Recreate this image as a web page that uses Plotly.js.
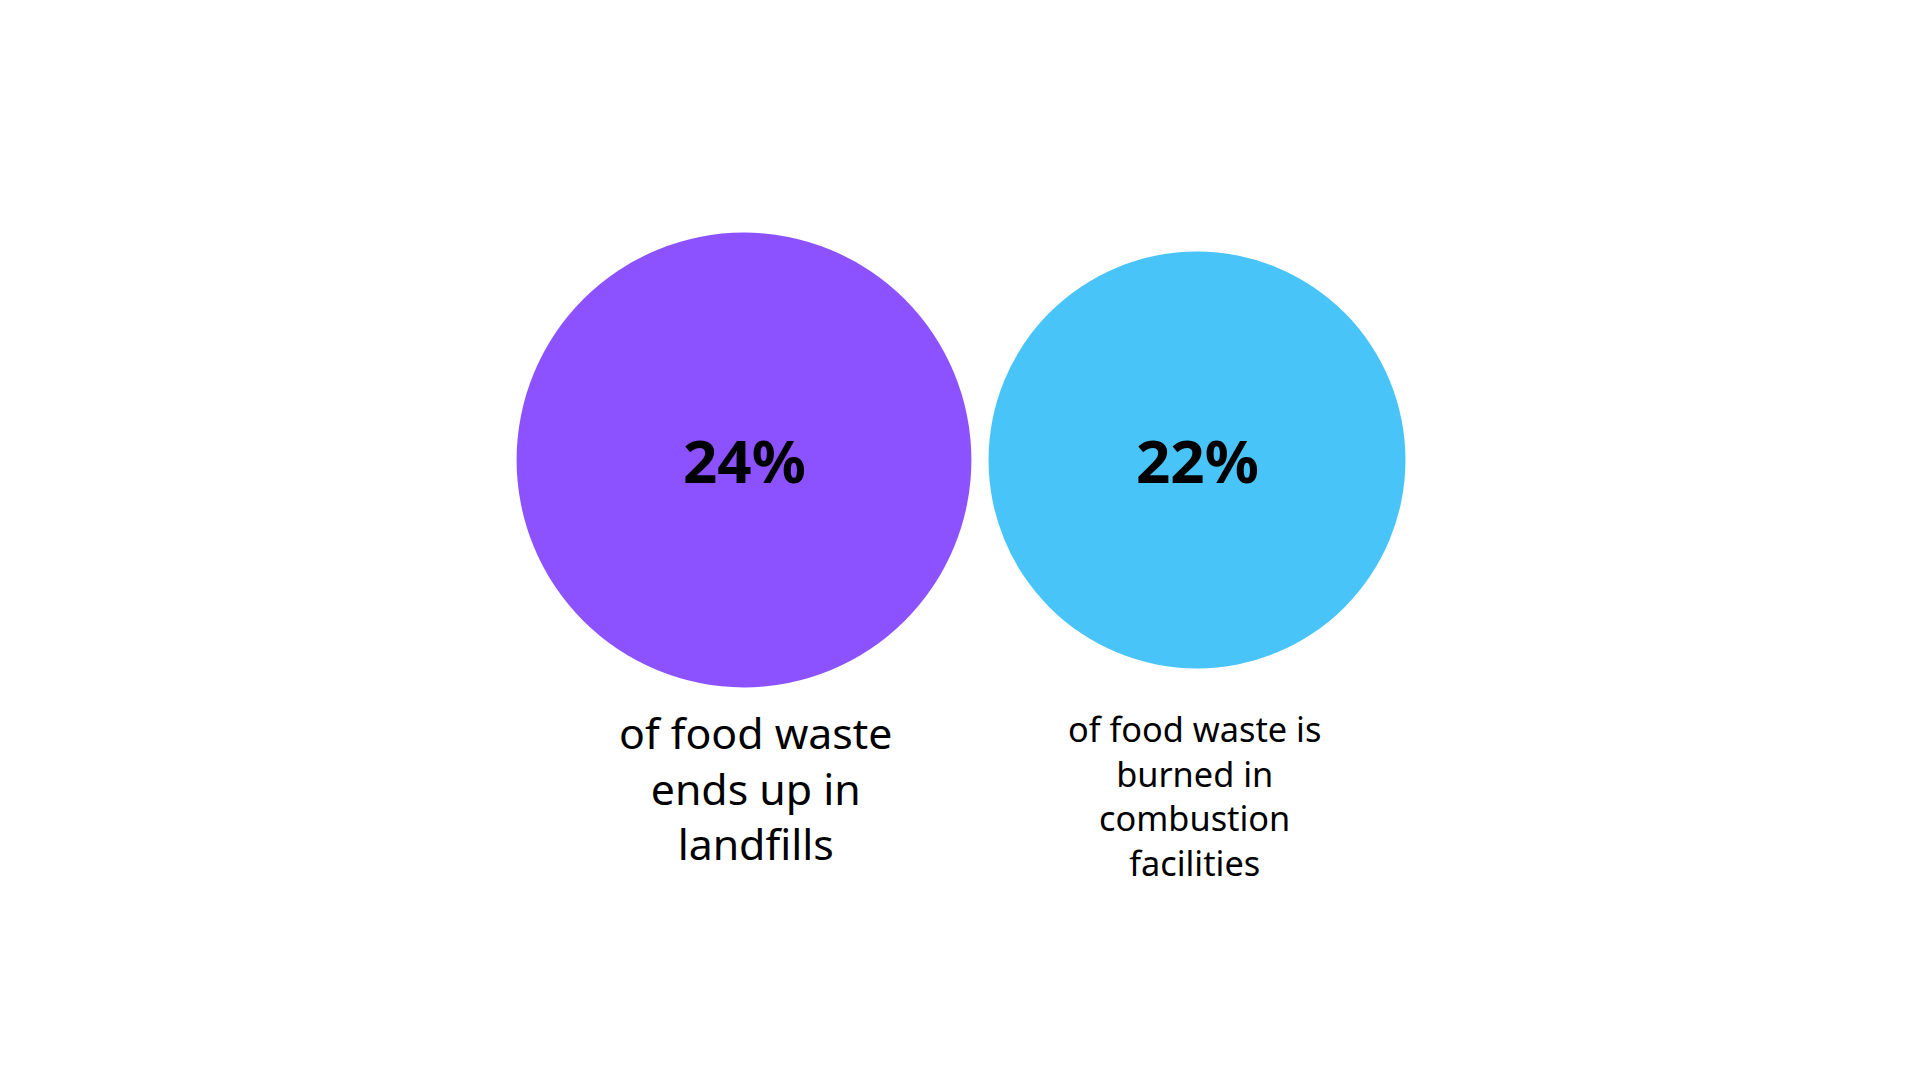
<!DOCTYPE html>
<html>
<head>
<meta charset="utf-8">
<script src="https://cdn.plot.ly/plotly-3.0.1.min.js"></script>
<style>html,body{margin:0;padding:0;background:#fff;}#chart{width:1920px;height:1080px;}</style>
</head>
<body>
<div id="chart"></div>
<script>
// Data
const categories = ["Landfills", "Combustion"];
const percentValues = [24, 22];
const captions = [
  "of food waste<br>ends up in<br>landfills",
  "of food waste is<br>burned in<br>combustion<br>facilities"
];
const colors = ["#8C52FF", "#48C4F9"];

const pxPerUnit = 18.95; // circle diameter per percentage point

const trace = {
  type: "scatter",
  mode: "markers",
  x: categories,
  y: categories.map(() => 0),
  marker: {
    size: percentValues.map(v => v * pxPerUnit),
    color: colors,
    line: {width: 0},
    opacity: 1
  },
  hoverinfo: "skip",
  cliponaxis: false
};

const captionLayout = [
  {xshift: 11, y: -328, size: 42.8},
  {xshift: -3, y: -335.5, size: 34.3}
];

const percentAnnotations = categories.map((c, i) => ({
  x: c,
  y: 0,
  xref: "x",
  yref: "y",
  text: percentValues[i] + "%",
  showarrow: false,
  xanchor: "center",
  yanchor: "middle",
  yshift: 0,
  font: {family: "Noto Sans", size: 60, color: "#000000", weight: 700}
}));

const captionAnnotations = categories.map((c, i) => ({
  x: c,
  y: captionLayout[i].y,
  xref: "x",
  yref: "y",
  text: captions[i],
  showarrow: false,
  xanchor: "center",
  yanchor: "middle",
  align: "center",
  xshift: captionLayout[i].xshift,
  font: {family: "Noto Sans", size: captionLayout[i].size, color: "#000000"}
}));

const layout = {
  width: 1920,
  height: 1080,
  margin: {l: 0, r: 0, t: 0, b: 0},
  paper_bgcolor: "#ffffff",
  plot_bgcolor: "#ffffff",
  showlegend: false,
  xaxis: {
    type: "category",
    range: [-744 / 453, (1920 - 744) / 453],
    visible: false,
    fixedrange: true
  },
  yaxis: {
    range: [-620, 460],
    visible: false,
    fixedrange: true
  },
  annotations: percentAnnotations.concat(captionAnnotations)
};

Plotly.newPlot("chart", [trace], layout, {displayModeBar: false, staticPlot: true});
</script>
</body>
</html>
